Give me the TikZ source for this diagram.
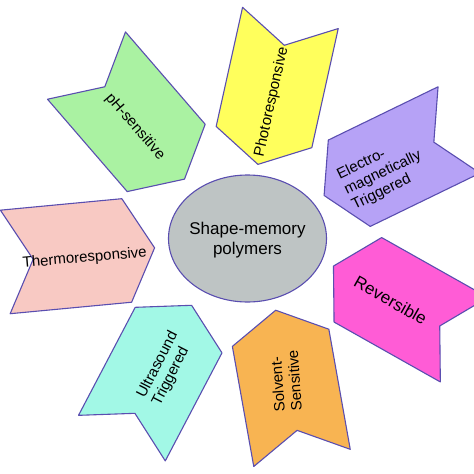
\documentclass[tikz,border=0pt]{standalone}
\usepackage{fontspec}
\setmainfont{Liberation Sans}
\definecolor{bord}{HTML}{5A4EB0}
\definecolor{cgreen}{HTML}{AAF2A2}
\definecolor{cyellow}{HTML}{FFFF5C}
\definecolor{cpurple}{HTML}{B6A2F6}
\definecolor{cmagenta}{HTML}{FF5CD6}
\definecolor{corange}{HTML}{F8B452}
\definecolor{ccyan}{HTML}{A2F8E6}
\definecolor{cpeach}{HTML}{F8C9C3}
\definecolor{cgray}{HTML}{BEC4C4}
\newcommand{\chevshape}[5]{%
  \begin{scope}[shift={(#1,#2)}, rotate=#3]
    \draw[chev, fill=#5] (-61,-#4) -- (61,-#4) -- (89,0) -- (61,#4) -- (-61,#4) -- (-33,0) -- cycle;
  \end{scope}}
\begin{document}
\begin{tikzpicture}[x=1pt,y=-1pt,
  chev/.style={draw=bord, line width=1.1pt, line join=round},
  lbl/.style={font=\fontsize{15}{17}\selectfont, align=left, inner sep=0pt},
  biglbl/.style={font=\fontsize{17}{19.5}\selectfont, align=center, inner sep=0pt}]
\useasboundingbox (0,0) rectangle (474,474);
\begin{scope}
\clip (0,0) rectangle (474,474);
\chevshape{126.35}{111.75}{-49.2}{51.5}{cgreen}
\chevshape{277.2}{77.5}{-102.5}{49}{cyellow}
\chevshape{404.15}{156.6}{205.9}{48}{cpurple}
\chevshape{411}{309.75}{150.6}{48.5}{cmagenta}
\chevshape{291.3}{397.85}{100.1}{49}{corange}
\chevshape{150.25}{384.1}{62.3}{49}{ccyan}
\chevshape{66}{256.2}{5.4}{52}{cpeach}
\draw[chev, fill=cgray] (247.5,238.5) ellipse [x radius=79, y radius=63.5];
\end{scope}
\node[biglbl] (smp) at (247.5,240) {Shape-memory\\polymers};
\node[lbl, rotate=-49.2] (ph) at (135,126.7) {pH-sensitive};
\node[lbl, rotate=77.5] (photo) at (271.7,101.7) {Photoresponsive};
\node[lbl, rotate=25.9] (electro) at (383,173) {Electro-\\magnetically\\Triggered};
\node[biglbl, rotate=-29.4] (rev) at (390.7,300.3) {Reversible};
\node[lbl, rotate=94] (solv) at (286,381) {Solvent-\\Sensitive};
\node[lbl, rotate=63] (ultra) at (165.3,368.7) {Ultrasound\\Triggered};
\node[lbl, rotate=5] (thermo) at (84.7,258.3) {Thermoresponsive};
\end{tikzpicture}
\end{document}
